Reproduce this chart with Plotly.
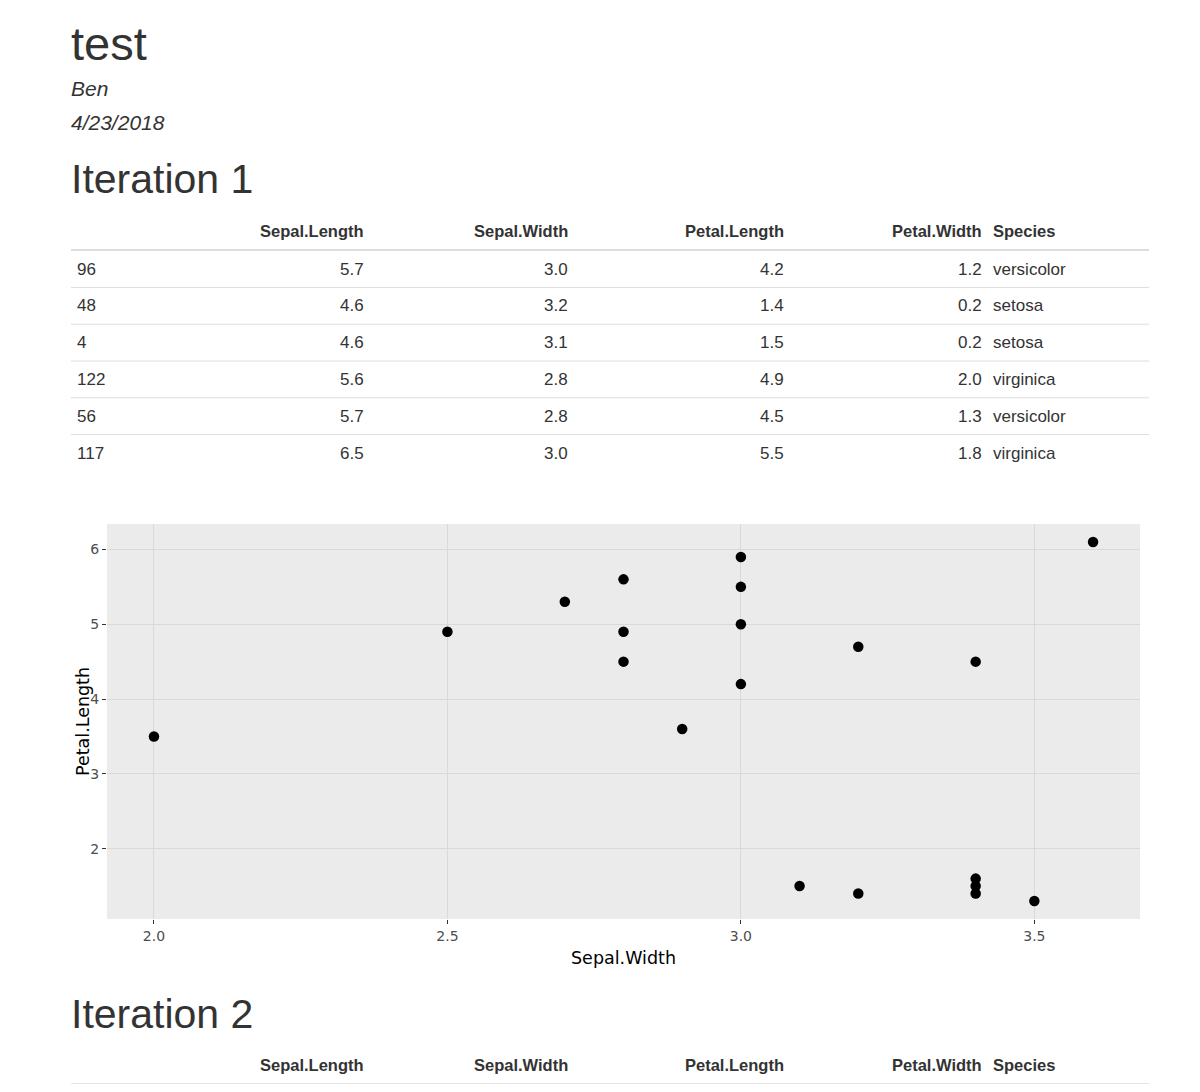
import plotly.graph_objects as go

# ---------------- data ----------------
doc_title = "test"
author = "Ben"
doc_date = "4/23/2018"
section_titles = ["Iteration 1", "Iteration 2"]

table_columns = ["Sepal.Length", "Sepal.Width", "Petal.Length", "Petal.Width", "Species"]
row_ids = ["96", "48", "4", "122", "56", "117"]
sepal_length = [5.7, 4.6, 4.6, 5.6, 5.7, 6.5]
sepal_width = [3.0, 3.2, 3.1, 2.8, 2.8, 3.0]
petal_length = [4.2, 1.4, 1.5, 4.9, 4.5, 5.5]
petal_width = [1.2, 0.2, 0.2, 2.0, 1.3, 1.8]
species = ["versicolor", "setosa", "setosa", "virginica", "versicolor", "virginica"]

scatter_sepal_width = [2.0, 2.5, 2.7, 2.8, 2.8, 2.8, 2.9, 3.0, 3.0, 3.0,
                       3.0, 3.1, 3.2, 3.2, 3.4, 3.4, 3.4, 3.4, 3.5, 3.6]
scatter_petal_length = [3.5, 4.9, 5.3, 5.6, 4.9, 4.5, 3.6, 5.9, 5.5, 5.0,
                        4.2, 1.5, 4.7, 1.4, 4.5, 1.6, 1.5, 1.4, 1.3, 6.1]

x_ticks = [2.0, 2.5, 3.0, 3.5]
x_tick_labels = ["2.0", "2.5", "3.0", "3.5"]
y_ticks = [2, 3, 4, 5, 6]
y_tick_labels = ["2", "3", "4", "5", "6"]
x_title = "Sepal.Width"
y_title = "Petal.Length"

# ---------------- layout helpers (page pixels -> paper) ----------------
W, H, OFF = 1184, 1076, 8


def fx(p):
    return (p - OFF) / W


def fy(p):
    return 1 - (p - OFF) / H


PAGE_FONT = "Liberation Sans"
PLOT_FONT = "DejaVu Sans"
TXT = "#333333"

annotations = []


def add_text(text, x, y, size, xanchor="left", bold=False, italic=False,
             family=PAGE_FONT, color=TXT, angle=0):
    annotations.append(dict(
        text=text, x=fx(x), y=fy(y), xref="paper", yref="paper",
        xanchor=xanchor, yanchor="middle", showarrow=False, textangle=angle,
        font=dict(family=family, size=size, color=color,
                  weight="bold" if bold else "normal",
                  style="italic" if italic else "normal"),
    ))


# document header
add_text(doc_title, 69, 43, 47)
add_text(author, 69, 89, 21, italic=True)
add_text(doc_date, 69, 122.5, 21, italic=True)

# section headings
section_y = [179.5, 1014]
for title, yy in zip(section_titles, section_y):
    add_text(title, 69, yy, 41)

col_right = [366, 570, 786, 984]
species_left = 991
header_y = [230.8, 1065]
shapes = []
for hy in header_y:
    for name, xr in zip(table_columns[:4], col_right):
        add_text(name, xr, hy, 16.5, xanchor="right", bold=True)
    add_text(table_columns[4], species_left, hy, 16.5, bold=True)
    shapes.append(dict(type="line", xref="paper", yref="paper",
                       x0=fx(71), x1=fx(1149), y0=fy(hy + 19.2), y1=fy(hy + 19.2),
                       line=dict(color="#dddddd", width=2)))

# table body (first table)
row_y0, row_step = 269, 36.8
numeric_cols = [sepal_length, sepal_width, petal_length, petal_width]
for i, rid in enumerate(row_ids):
    yy = row_y0 + row_step * i
    add_text(rid, 75, yy, 17)
    for col, xr in zip(numeric_cols, col_right):
        add_text(f"{col[i]:.1f}", xr, yy, 17, xanchor="right")
    add_text(species[i], species_left, yy, 17)
    if i > 0:
        ly = yy - row_step / 2
        shapes.append(dict(type="line", xref="paper", yref="paper",
                           x0=fx(71), x1=fx(1149), y0=fy(ly), y1=fy(ly),
                           line=dict(color="#dddddd", width=1)))

# axis titles (ggplotly style placement)
add_text(x_title, 623.5, 958, 17.5, xanchor="center", family=PLOT_FONT, color="#000000")
add_text(y_title, 82.5, 721.5, 17.5, xanchor="center", family=PLOT_FONT, color="#000000", angle=-90)

# ---------------- figure ----------------
fig = go.Figure()
fig.add_trace(go.Scatter(
    x=scatter_sepal_width, y=scatter_petal_length, mode="markers",
    marker=dict(color="#000000", size=10.5, line=dict(width=0)),
    showlegend=False,
    hovertemplate="Sepal.Width: %{x}<br>Petal.Length: %{y}<extra></extra>",
))

axis_common = dict(
    showline=False, zeroline=False, showgrid=True,
    gridcolor="#d9d9d9", gridwidth=1,
    ticks="outside", ticklen=4, tickwidth=1, tickcolor="#333333",
    tickfont=dict(family=PLOT_FONT, size=14, color="#4d4d4d"),
)

fig.update_layout(
    width=W, height=H, autosize=False,
    margin=dict(l=0, r=0, t=0, b=0),
    paper_bgcolor="#ffffff", plot_bgcolor="#ebebeb",
    xaxis=dict(domain=[fx(107), fx(1140)], range=[1.92, 3.68],
               tickvals=x_ticks, ticktext=x_tick_labels, **axis_common),
    yaxis=dict(domain=[fy(919), fy(524)], range=[1.06, 6.34],
               tickvals=y_ticks, ticktext=y_tick_labels, **axis_common),
    annotations=annotations,
    shapes=shapes,
    showlegend=False,
)

fig.write_html("out.html")
